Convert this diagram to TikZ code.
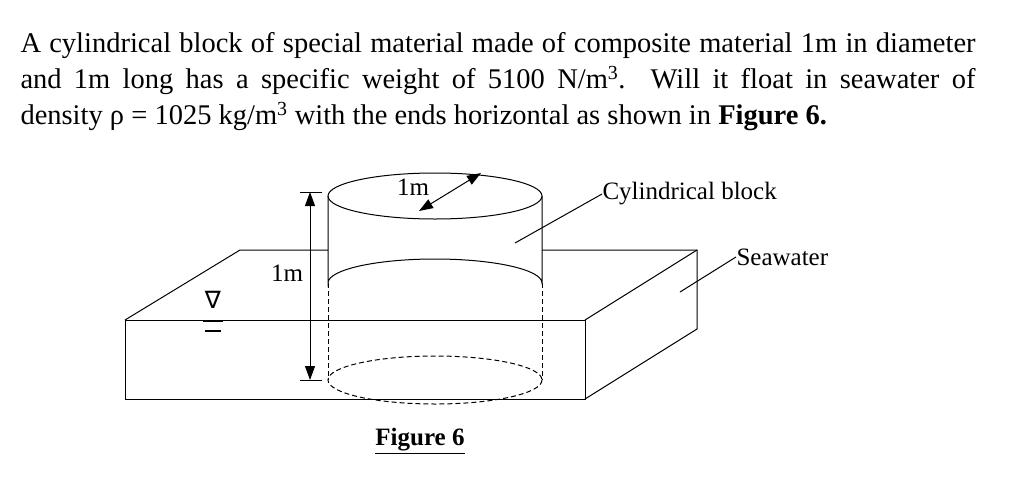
\documentclass[tikz,border=0pt]{standalone}
\usepackage{fontspec}
\setmainfont{Liberation Serif}
\newfontfamily\djv{DejaVu Sans}
\usetikzlibrary{arrows.meta}
\begin{document}
\begin{tikzpicture}[x=1pt,y=-1pt,line width=1pt,
  lbl/.style={font=\fontsize{25}{27}\selectfont,inner sep=0},
  dsh/.style={dashed,dash pattern=on 5pt off 3pt}]
\useasboundingbox (0,0) rectangle (1024,488);
\node[anchor=north west,inner sep=0,text width=955pt,align=justify,font=\fontsize{28.5}{36}\selectfont] (txt) at (20,32)
{A cylindrical block of special material made of composite material 1m in diameter\linebreak and 1m long has a specific weight of 5100 N/m\textsuperscript{3}. Will it float in seawater of\linebreak density ρ = 1025 kg/m\textsuperscript{3} with the ends horizontal as shown in \textbf{Figure 6.}};
% box
\draw (125,320) rectangle (585,399);
\draw (125,320) -- (240,250) -- (328,250);
\draw (542,250) -- (697,250) -- (697,329) -- (585,399);
\draw (585,320) -- (697,250);
% cylinder
\draw[fill=white] (328,196) -- (328,283) arc[start angle=180,end angle=360,x radius=107,y radius=24] -- (542,196);
\draw (435,196) ellipse[x radius=107,y radius=23];
\draw[dsh] (328,283) -- (328,380) (542,283) -- (542,380);
\draw[dsh] (435,380) ellipse[x radius=107,y radius=24];
% dimensions
\coordinate (t1) at (310,192); \coordinate (t2) at (310,380);
\draw (300,192) -- (322,192) (300,380) -- (322,380);
\draw[{Triangle[length=14pt,width=10pt]}-{Triangle[length=14pt,width=10pt]}] (t1) -- (t2);
\node[lbl] (h) at (287,273) {1m};
\coordinate (d1) at (419,211); \coordinate (d2) at (481,173);
\draw[{Triangle[length=14pt,width=10pt]}-{Triangle[length=14pt,width=10pt]}] (d1) -- (d2);
\node[lbl] (d) at (413,187) {1m};
% water symbol
\node[inner sep=0,font=\djv\fontsize{24}{26}\selectfont] (wv) at (213,300) {∇};
\draw (203,321) -- (223,321);
\draw[line width=1.6pt] (205,331) -- (221,331);
% leaders
\node[lbl,anchor=west] (cb) at (602,194) {Cylindrical block};
\coordinate (c1) at (515,243);
\draw (c1) -- (cb.west);
\node[lbl,anchor=west] (sw) at (736,257) {Seawater};
\coordinate (s1) at (680,292);
\draw (s1) -- (sw.west);
\node[lbl,font=\bfseries\fontsize{25}{27}\selectfont] (fig) at (420,441) {\underline{Figure 6}};
\end{tikzpicture}
\end{document}
